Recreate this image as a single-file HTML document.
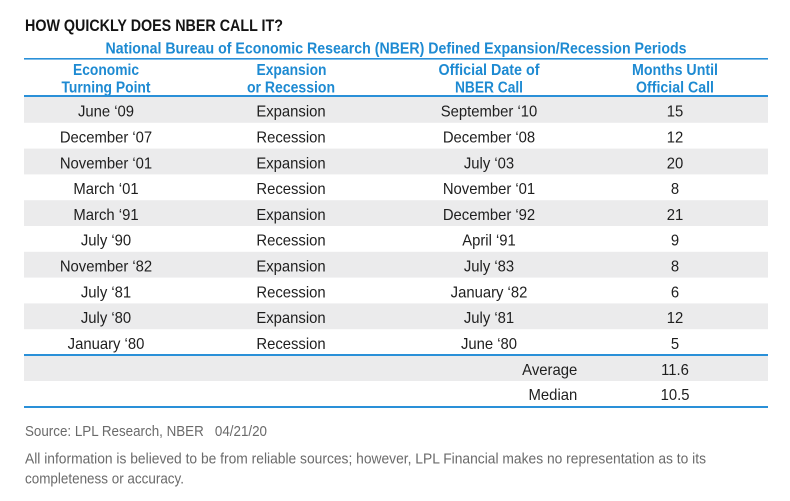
<!DOCTYPE html>
<html><head><meta charset="utf-8"><style>
html,body{margin:0;padding:0;background:#fff;}
svg{display:block;}
text{font-family:"Liberation Sans",Arial,sans-serif;}
.t{font-weight:bold;font-size:17px;fill:#141414;}
.s{font-weight:bold;font-size:16px;fill:#1d8ad2;}
.h{font-weight:bold;font-size:16px;fill:#1d8ad2;}
.b{font-size:16px;fill:#1e1e1e;}
.f{font-size:15px;fill:#6a6a6a;}
</style></head><body>
<svg width="790" height="501" viewBox="0 0 790 501" xmlns="http://www.w3.org/2000/svg">
<rect width="790" height="501" fill="#fff"/>
<text class="t" x="25" y="31" textLength="258" lengthAdjust="spacingAndGlyphs">HOW QUICKLY DOES NBER CALL IT?</text>
<text class="s" x="396" y="53.3" text-anchor="middle" textLength="581" lengthAdjust="spacingAndGlyphs">National Bureau of Economic Research (NBER) Defined Expansion/Recession Periods</text>
<rect x="24" y="58" width="744" height="1.6" fill="#2a90d8"/>
<!-- headers -->
<g class="h">
<text x="106" y="75" text-anchor="middle" textLength="66" lengthAdjust="spacingAndGlyphs">Economic</text>
<text x="106" y="92.7" text-anchor="middle" textLength="89" lengthAdjust="spacingAndGlyphs">Turning Point</text>
<text x="291.5" y="75" text-anchor="middle" textLength="70" lengthAdjust="spacingAndGlyphs">Expansion</text>
<text x="291" y="92.7" text-anchor="middle" textLength="88" lengthAdjust="spacingAndGlyphs">or Recession</text>
<text x="489" y="75" text-anchor="middle" textLength="101" lengthAdjust="spacingAndGlyphs">Official Date of</text>
<text x="489" y="92.7" text-anchor="middle" textLength="68" lengthAdjust="spacingAndGlyphs">NBER Call</text>
<text x="675" y="75" text-anchor="middle" textLength="86" lengthAdjust="spacingAndGlyphs">Months Until</text>
<text x="675" y="92.7" text-anchor="middle" textLength="78" lengthAdjust="spacingAndGlyphs">Official Call</text>
</g>
<rect x="24" y="95" width="744" height="2" fill="#2a90d8"/>
<!-- shaded rows -->
<g fill="#ebebec">
<rect x="24" y="97" width="744" height="25.8"/>
<rect x="24" y="148.6" width="744" height="25.8"/>
<rect x="24" y="200.2" width="744" height="25.8"/>
<rect x="24" y="251.8" width="744" height="25.8"/>
<rect x="24" y="303.4" width="744" height="25.8"/>
<rect x="24" y="356" width="744" height="25"/>
</g>
<rect x="24" y="354" width="744" height="2" fill="#2a90d8"/>
<rect x="24" y="406" width="744" height="2" fill="#2a90d8"/>
<g class="b">
<g transform="translate(106,0) scale(0.928,1)" text-anchor="middle">
<text x="0" y="116.7">June ‘09</text>
<text x="0" y="142.5">December ‘07</text>
<text x="0" y="168.3">November ‘01</text>
<text x="0" y="194.1">March ‘01</text>
<text x="0" y="219.9">March ‘91</text>
<text x="0" y="245.7">July ‘90</text>
<text x="0" y="271.5">November ‘82</text>
<text x="0" y="297.3">July ‘81</text>
<text x="0" y="323.1">July ‘80</text>
<text x="0" y="348.9">January ‘80</text>
</g>
<g transform="translate(291,0) scale(0.928,1)" text-anchor="middle">
<text x="0" y="116.7">Expansion</text>
<text x="0" y="142.5">Recession</text>
<text x="0" y="168.3">Expansion</text>
<text x="0" y="194.1">Recession</text>
<text x="0" y="219.9">Expansion</text>
<text x="0" y="245.7">Recession</text>
<text x="0" y="271.5">Expansion</text>
<text x="0" y="297.3">Recession</text>
<text x="0" y="323.1">Expansion</text>
<text x="0" y="348.9">Recession</text>
</g>
<g transform="translate(489,0) scale(0.928,1)" text-anchor="middle">
<text x="0" y="116.7">September ‘10</text>
<text x="0" y="142.5">December ‘08</text>
<text x="0" y="168.3">July ‘03</text>
<text x="0" y="194.1">November ‘01</text>
<text x="0" y="219.9">December ‘92</text>
<text x="0" y="245.7">April ‘91</text>
<text x="0" y="271.5">July ‘83</text>
<text x="0" y="297.3">January ‘82</text>
<text x="0" y="323.1">July ‘81</text>
<text x="0" y="348.9">June ‘80</text>
</g>
<g transform="translate(675,0) scale(0.928,1)" text-anchor="middle">
<text x="0" y="116.7">15</text>
<text x="0" y="142.5">12</text>
<text x="0" y="168.3">20</text>
<text x="0" y="194.1">8</text>
<text x="0" y="219.9">21</text>
<text x="0" y="245.7">9</text>
<text x="0" y="271.5">8</text>
<text x="0" y="297.3">6</text>
<text x="0" y="323.1">12</text>
<text x="0" y="348.9">5</text>
<text x="0" y="375">11.6</text>
<text x="0" y="400">10.5</text>
</g>
<g transform="translate(577.3,0) scale(0.93,1)" text-anchor="end">
<text x="0" y="375">Average</text>
<text x="0" y="400">Median</text>
</g>
</g>
<g class="f">
<text x="25" y="436" textLength="242" lengthAdjust="spacingAndGlyphs" xml:space="preserve">Source: LPL Research, NBER   04/21/20</text>
<text x="25" y="463.3" textLength="681" lengthAdjust="spacingAndGlyphs">All information is believed to be from reliable sources; however, LPL Financial makes no representation as to its</text>
<text x="25" y="483.5" textLength="159" lengthAdjust="spacingAndGlyphs">completeness or accuracy.</text>
</g>
</svg>
</body></html>
